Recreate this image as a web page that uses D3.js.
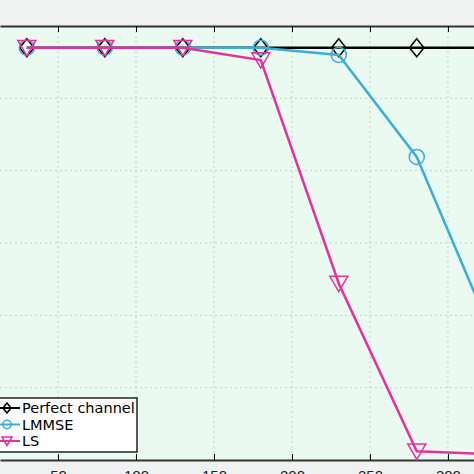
<!DOCTYPE html>
<html><head><meta charset="utf-8">
<script src="https://cdn.jsdelivr.net/npm/d3@7"></script>
<style>body{margin:0;background:#f0f2f2}</style>
</head><body><div id="container"></div>
<script>
const width = 474, height = 474
const xVals = [30, 80, 130, 180, 230, 280, 330]
const perfect = [5.70, 5.70, 5.70, 5.70, 5.70, 5.70, 5.70]
const lmmse = [5.70, 5.70, 5.70, 5.70, 5.60, 4.19, 1.65]
const ls = [5.70, 5.70, 5.70, 5.53, 2.44, 0.12, 0.08]
const xTicks = [50, 100, 150, 200, 250, 300]
const yTicks = [1, 2, 3, 4, 5]
const series = [
  { name: "Perfect channel", values: perfect, color: "#000000", shape: "diamond" },
  { name: "LMMSE", values: lmmse, color: "#3aaed8", shape: "circle" },
  { name: "LS", values: ls, color: "#e8309a", shape: "tri" }
]

const plotTop = 26, plotBottom = 460
const xScale = d3.scaleLinear().domain([12.8, 316.7]).range([0, width])
const yScale = d3.scaleLinear().domain([0, 6]).range([plotBottom, plotTop])

const svg = d3.select("#container").append("svg")
  .attr("width", width).attr("height", height)
  .style("font-family", "DejaVu Sans")

svg.append("rect").attr("x", 0).attr("y", plotTop).attr("width", width)
  .attr("height", plotBottom - plotTop).attr("fill", "#eafaf0")

// grid
svg.selectAll(".vg").data(xTicks).join("line")
  .attr("x1", d => xScale(d)).attr("x2", d => xScale(d))
  .attr("y1", plotTop).attr("y2", plotBottom)
  .attr("stroke", "#c8cccc").attr("stroke-dasharray", "2,3")
svg.selectAll(".hg").data(yTicks).join("line")
  .attr("x1", 0).attr("x2", width)
  .attr("y1", d => yScale(d)).attr("y2", d => yScale(d))
  .attr("stroke", "#c8cccc").attr("stroke-dasharray", "2,3")

// axes
svg.append("g").attr("transform", `translate(0,${plotBottom})`)
  .call(d3.axisBottom(xScale).tickValues(xTicks).tickSizeInner(-6).tickSizeOuter(0).tickPadding(10))
  .call(g => g.select(".domain").attr("stroke", "#333").attr("stroke-width", 2))
  .call(g => g.selectAll("text").attr("font-size", 15).attr("fill", "#222"))
svg.append("g").attr("transform", `translate(0,${plotTop})`)
  .call(d3.axisTop(xScale).tickValues(xTicks).tickSizeInner(-6).tickSizeOuter(0).tickFormat(""))
  .call(g => g.select(".domain").attr("stroke", "#333").attr("stroke-width", 2))

const symbolPath = (shape, s) => {
  if (shape === "diamond") return `M0,${-s}L${s * 0.8},0L0,${s}L${-s * 0.8},0Z`
  if (shape === "circle") return d3.symbol(d3.symbolCircle, Math.PI * s * s * 0.7)()
  return `M${-s},${-s * 0.8}L${s},${-s * 0.8}L0,${s * 0.9}Z`
}

const line = d3.line().x((d, i) => xScale(xVals[i])).y(d => yScale(d))
series.forEach(s => {
  svg.append("path").datum(s.values).attr("d", line)
    .attr("fill", "none").attr("stroke", s.color).attr("stroke-width", 2.5)
  svg.selectAll(null).data(s.values).join("path")
    .attr("transform", (d, i) => `translate(${xScale(xVals[i])},${yScale(d)})`)
    .attr("d", symbolPath(s.shape, 9))
    .attr("fill", "none").attr("stroke", s.color).attr("stroke-width", 1.5)
})

// legend
const lg = svg.append("g").attr("transform", "translate(-2,398)")
lg.append("rect").attr("width", 139).attr("height", 54)
  .attr("fill", "#fff").attr("stroke", "#222").attr("stroke-width", 1.5)
series.forEach((s, i) => {
  const y = 10 + i * 16.5
  lg.append("line").attr("x1", 0).attr("x2", 22).attr("y1", y).attr("y2", y)
    .attr("stroke", s.color).attr("stroke-width", 2)
  lg.append("path").attr("transform", `translate(9,${y})`).attr("d", symbolPath(s.shape, 5))
    .attr("fill", "none").attr("stroke", s.color).attr("stroke-width", 1.5)
  lg.append("text").attr("x", 24).attr("y", y + 5).attr("font-size", 14.5).text(s.name)
})
</script></body></html>
